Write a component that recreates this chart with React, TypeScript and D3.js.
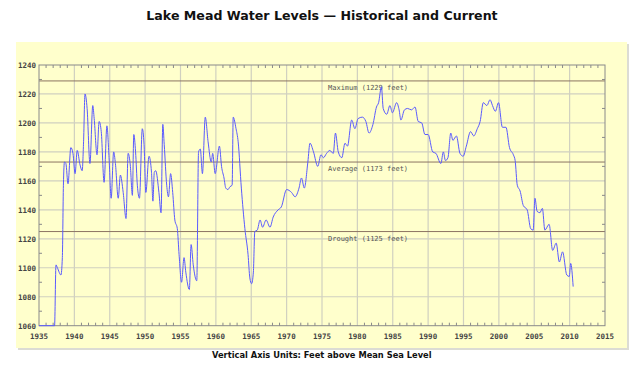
import React, { useEffect, useRef } from "react";
import * as d3 from "d3";

// lake level readings (feet above sea level)
const years = [
  1935, 1937.2, 1937.4, 1937.6, 1938.1, 1938.3, 1938.45, 1938.6, 1938.8, 1939.1,
  1939.5, 1939.8, 1940.1, 1940.4, 1940.8, 1941.1, 1941.3, 1941.5, 1941.8, 1942.2,
  1942.6, 1942.8, 1943.2, 1943.5, 1943.8, 1944.2, 1944.6, 1944.9, 1945.2, 1945.55,
  1945.8, 1946.2, 1946.5, 1946.9, 1947.3, 1947.6, 1947.9, 1948.2, 1948.4, 1948.65,
  1948.9, 1949.2, 1949.6, 1949.85, 1950.1, 1950.55, 1950.9, 1951.1, 1951.3, 1951.5,
  1951.95, 1952.25, 1952.5, 1952.7, 1953.05, 1953.3, 1953.6, 1953.9, 1954.2, 1954.55,
  1954.8, 1955.15, 1955.5, 1955.75, 1956.25, 1956.5, 1956.8, 1957.3, 1957.55, 1957.8,
  1958.1, 1958.5, 1958.9, 1959.35, 1959.55, 1959.9, 1960.5, 1960.8, 1961.15, 1961.4,
  1961.7, 1962.0, 1962.3, 1962.45, 1962.85, 1963.15, 1963.6, 1964.1, 1964.55, 1964.8,
  1965.05, 1965.3, 1965.5, 1965.85, 1966.25, 1966.6, 1967.1, 1967.65, 1968.1, 1968.8,
  1969.25, 1970.0, 1970.7, 1971.2, 1971.75, 1972.1, 1972.5, 1973.0, 1973.3, 1973.8,
  1974.4, 1974.85, 1975.2, 1975.65, 1976.1, 1976.6, 1976.9, 1977.3, 1977.8, 1978.25,
  1978.6, 1979.2, 1979.65, 1980.1, 1980.7, 1981.2, 1981.65, 1982.2, 1982.7, 1983.0,
  1983.4, 1983.65, 1984.15, 1984.6, 1984.95, 1985.55, 1985.9, 1986.15, 1986.65, 1987.1,
  1987.65, 1988.15, 1988.6, 1989.1, 1989.55, 1990.0, 1990.65, 1991.1, 1991.8, 1992.15,
  1992.45, 1992.8, 1993.2, 1993.5, 1994.0, 1994.5, 1994.95, 1995.4, 1996.0, 1996.45,
  1996.95, 1997.35, 1997.8, 1998.3, 1998.75, 1999.1, 1999.5, 1999.95, 2000.5, 2001.0,
  2001.5, 2002.05, 2002.3, 2002.6, 2003.0, 2003.45, 2004.0, 2004.5, 2004.85, 2005.1,
  2005.4, 2005.8, 2006.15, 2006.5, 2007.1, 2007.6, 2008.1, 2008.55, 2009.0, 2009.6,
  2009.95, 2010.15, 2010.5,
];
const levels = [
  1060, 1060, 1102, 1100, 1095, 1107, 1157, 1173, 1172, 1158,
  1183, 1179, 1165, 1181, 1171, 1167, 1187, 1220, 1210, 1172,
  1212, 1203, 1178, 1201, 1194, 1159, 1198, 1176, 1148, 1180,
  1172, 1148, 1164, 1152, 1134, 1179, 1171, 1150, 1192, 1180,
  1157, 1148, 1196, 1185, 1152, 1177, 1166, 1146, 1166, 1167,
  1152, 1138, 1199, 1185, 1157, 1149, 1165, 1152, 1133, 1127,
  1109, 1090, 1107, 1097, 1085, 1116, 1102, 1091, 1180, 1182,
  1165, 1204, 1187, 1173, 1179, 1165, 1184, 1170, 1162, 1155,
  1154, 1156, 1157, 1204, 1196, 1187, 1155, 1127, 1109, 1093,
  1089, 1097, 1125, 1126, 1133, 1128, 1133, 1128, 1135, 1140,
  1142, 1154, 1152, 1149, 1155, 1162, 1155, 1173, 1186, 1180,
  1170, 1178, 1176, 1179, 1181, 1179, 1193, 1180, 1176, 1186,
  1184, 1202, 1196, 1203, 1204, 1201, 1193, 1199, 1211, 1214,
  1225, 1210, 1206, 1212, 1207, 1214, 1209, 1202, 1209, 1210,
  1209, 1211, 1201, 1200, 1192, 1192, 1180, 1179, 1172, 1180,
  1174, 1176, 1193, 1188, 1191, 1179, 1177, 1184, 1194, 1191,
  1196, 1201, 1214, 1212, 1216, 1212, 1208, 1214, 1197, 1197,
  1183, 1178, 1174, 1157, 1153, 1143, 1140, 1127, 1126, 1148,
  1139, 1138, 1141, 1126, 1130, 1112, 1117, 1104, 1111, 1095,
  1094, 1103, 1087,
];

const refLines = [1229, 1173, 1125];
const refLabels = ["Maximum (1229 feet)", "Average (1173 feet)", "Drought (1125 feet)"];

const xTicks = d3.range(1935, 2016, 5);
const yTicks = d3.range(1060, 1241, 20);

const W = 640;
const H = 366;

export default function App() {
  const svgRef = useRef<SVGSVGElement>(null);

  useEffect(() => {
    const svg = d3.select(svgRef.current);
    svg.selectAll("*").remove();

    const left = 39, right = 605, top = 65, bottom = 325.7;

    const x = d3.scaleLinear().domain([1935, 2015]).range([left, right]);
    const y = d3.scaleLinear().domain([1060, 1240]).range([bottom, top]);

    svg.append("rect").attr("width", W).attr("height", H).attr("fill", "#fff");

    // title
    svg.append("text")
      .attr("x", 322).attr("y", 20)
      .attr("text-anchor", "middle")
      .attr("font-family", "DejaVu Sans, Verdana, sans-serif")
      .attr("font-weight", "bold")
      .attr("font-size", 12.6)
      .attr("fill", "#111")
      .text("Lake Mead Water Levels \u2014 Historical and Current");

    // panel with a soft shadow
    svg.append("rect").attr("x", 18).attr("y", 44).attr("width", 611).attr("height", 306).attr("fill", "#dcdcd4");
    svg.append("rect").attr("x", 16).attr("y", 42).attr("width", 611).attr("height", 306).attr("fill", "#ffffcc");

    // grid
    const grid = svg.append("g").attr("stroke", "#d0d0c0").attr("stroke-width", 1.2);
    xTicks.slice(1, -1).forEach((t) => {
      grid.append("line").attr("x1", x(t)).attr("x2", x(t)).attr("y1", top).attr("y2", bottom);
    });
    yTicks.slice(1, -1).forEach((t) => {
      grid.append("line").attr("x1", left).attr("x2", right).attr("y1", y(t)).attr("y2", y(t));
    });

    // reference lines
    refLines.forEach((v, i) => {
      svg.append("line")
        .attr("x1", left).attr("x2", right)
        .attr("y1", y(v)).attr("y2", y(v))
        .attr("stroke", "#8c7462").attr("stroke-width", 1);
      svg.append("text")
        .attr("x", 328).attr("y", y(v) + 9)
        .attr("font-family", "DejaVu Sans Mono, monospace")
        .attr("font-size", 7)
        .attr("fill", "#555")
        .text(refLabels[i]);
    });

    // frame and ticks
    const axis = svg.append("g").attr("stroke", "#8a8a8a").attr("stroke-width", 1).attr("fill", "none");
    axis.append("rect").attr("x", left).attr("y", top).attr("width", right - left).attr("height", bottom - top);
    d3.range(1936, 2015).forEach((t) => {
      const len = t % 5 === 0 ? 0 : 3;
      if (!len) return;
      axis.append("line").attr("x1", x(t)).attr("x2", x(t)).attr("y1", bottom).attr("y2", bottom - len);
      axis.append("line").attr("x1", x(t)).attr("x2", x(t)).attr("y1", top).attr("y2", top + len);
    });
    d3.range(1070, 1240, 10).forEach((t) => {
      const len = t % 20 === 0 ? 0 : 3;
      if (!len) return;
      axis.append("line").attr("x1", left).attr("x2", left + len).attr("y1", y(t)).attr("y2", y(t));
      axis.append("line").attr("x1", right).attr("x2", right - len).attr("y1", y(t)).attr("y2", y(t));
    });

    // data line
    const pts = years.map((yr, i) => [yr, levels[i]] as [number, number]);
    const line = d3.line<[number, number]>()
      .x((d) => x(d[0]))
      .y((d) => y(d[1]))
      .curve(d3.curveMonotoneX);
    svg.append("path")
      .datum(pts)
      .attr("d", line)
      .attr("fill", "none")
      .attr("stroke", "#5a5aff")
      .attr("stroke-width", 1);

    // tick labels
    const lab = svg.append("g")
      .attr("font-family", "DejaVu Sans Mono, monospace")
      .attr("font-weight", "bold")
      .attr("font-size", 7.5)
      .attr("fill", "#444");
    xTicks.forEach((t) => {
      lab.append("text").attr("x", x(t)).attr("y", bottom + 13).attr("text-anchor", "middle").text(t);
    });
    yTicks.forEach((t) => {
      lab.append("text").attr("x", 36).attr("y", y(t) + 3).attr("text-anchor", "end").text(t);
    });

    // units note
    svg.append("text")
      .attr("x", 212).attr("y", 358)
      .attr("font-family", "DejaVu Sans, Verdana, sans-serif")
      .attr("font-weight", "bold")
      .attr("font-size", 8.3)
      .attr("fill", "#111")
      .text("Vertical Axis Units: Feet above Mean Sea Level");
  }, []);

  return (
    <svg
      ref={svgRef}
      width={W}
      height={H}
      style={{ position: "absolute", left: 0, top: 0, display: "block" }}
    />
  );
}
